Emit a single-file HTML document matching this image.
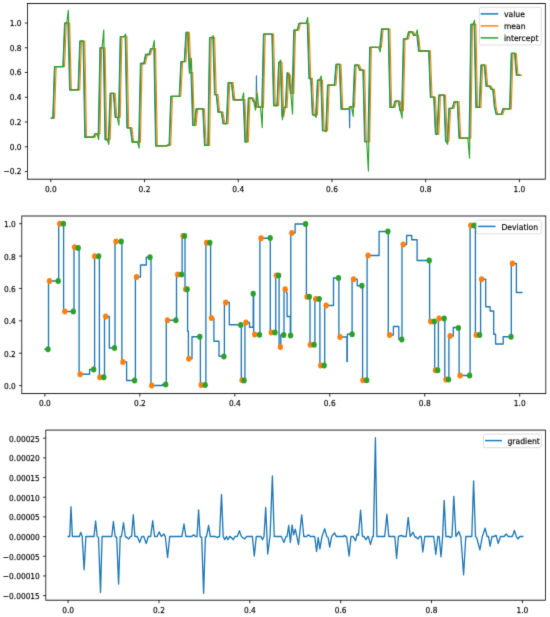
<!DOCTYPE html>
<html><head><meta charset="utf-8"><title>plot</title>
<style>html,body{margin:0;padding:0;background:#fff;} svg{display:block;}</style>
</head><body>
<svg width="550" height="617" viewBox="0 0 550 617"><defs><filter id="bl" x="-2%" y="-2%" width="104%" height="104%" color-interpolation-filters="sRGB"><feConvolveMatrix order="3" kernelMatrix="0.01134 0.08382 0.01134 0.08382 0.61935 0.08382 0.01134 0.08382 0.01134" divisor="1" edgeMode="duplicate" preserveAlpha="false"/></filter></defs><g filter="url(#bl)"><rect width="550" height="617" fill="#fff"/><g transform="scale(0.55,0.617)"><g font-family="DejaVu Sans, Liberation Sans, sans-serif" font-size="13.293" fill="#000">
<g>
<polyline points="92.91,191.60 95.97,191.60 99.04,107.85 114.36,107.85 117.43,37.61 123.56,37.61 126.62,145.43 141.94,145.43 145.01,66.71 151.14,66.71 154.20,222.43 169.53,222.43 172.59,216.41 178.72,216.41 181.79,77.52 187.92,77.52 190.98,226.11 197.11,226.11 200.17,151.32 206.30,151.32 209.37,190.25 215.50,190.25 218.56,59.47 227.76,59.47 230.82,207.20 236.95,207.20 240.02,230.16 252.27,230.16 255.34,102.94 261.47,102.94 264.53,88.32 270.66,88.32 273.73,78.75 279.86,78.75 282.92,236.30 301.31,236.30 304.38,235.08 307.44,235.08 310.50,156.11 325.83,156.11 328.89,99.99 335.02,99.99 338.09,52.47 341.15,52.47 344.22,117.92 347.28,117.92 350.35,203.27 353.41,203.27 356.48,176.38 368.73,176.38 371.80,235.57 377.93,235.57 380.99,60.82 387.12,60.82 390.19,153.41 393.25,153.41 396.32,181.78 402.45,181.78 405.51,200.20 411.64,200.20 414.71,134.13 420.83,134.13 423.90,161.64 442.29,161.64 445.35,229.92 448.42,229.92 451.48,158.94 457.61,158.94 460.68,164.71 463.74,164.71 465.73,173.26 466.27,122.85 466.82,173.26 466.81,173.80 476.00,173.80 479.06,55.29 494.39,55.29 497.45,170.97 503.58,170.97 506.65,101.22 509.71,101.22 512.78,188.90 515.84,174.04 518.91,174.04 521.97,117.92 525.04,122.59 528.10,151.45 531.17,151.45 534.23,48.90 537.29,48.90 540.36,48.87 543.42,37.97 558.75,37.97 561.81,127.25 564.88,127.25 567.94,186.08 574.07,186.08 577.14,129.83 583.27,129.83 586.33,211.74 592.46,211.74 595.52,137.94 607.78,137.94 610.85,104.29 616.98,104.29 620.04,176.74 632.30,176.74 635.09,175.53 635.64,206.97 636.18,175.53 635.37,173.18 641.50,173.18 644.56,105.64 650.69,105.64 653.75,113.75 659.88,113.75 662.95,229.67 669.08,229.67 672.14,76.66 690.53,76.66 693.60,47.06 705.85,47.06 708.92,174.04 715.05,174.04 718.11,163.85 724.24,163.85 727.31,179.45 730.37,179.45 733.44,63.15 739.57,63.15 742.63,51.85 748.76,51.85 751.83,57.26 757.95,57.26 761.02,82.68 779.41,82.68 782.47,157.46 788.60,157.46 791.67,217.52 794.73,217.52 797.80,154.03 806.99,154.03 810.06,228.81 813.12,228.81 816.18,175.52 822.31,175.52 825.38,165.08 831.51,165.08 834.57,223.78 852.96,223.78 856.03,39.69 862.16,39.69 865.22,174.04 871.35,174.04 874.41,105.64 880.54,105.64 883.61,139.53 889.74,139.53 892.80,144.82 895.87,144.82 898.93,173.18 902.00,185.34 911.19,185.34 914.26,176.38 926.51,176.38 929.58,86.48 935.71,86.48 938.77,121.85 944.90,121.85" fill="none" stroke="#1f77b4" stroke-width="2.1" stroke-linejoin="round" stroke-linecap="square"/>
<polyline points="95.97,191.60 99.04,191.60 102.10,107.85 117.43,107.85 120.49,37.61 126.62,37.61 129.69,145.43 145.01,145.43 148.07,66.71 154.20,66.71 157.27,222.43 172.59,222.43 175.66,216.41 181.79,216.41 184.85,77.52 190.98,77.52 194.05,226.11 200.17,226.11 203.24,151.32 209.37,151.32 212.43,190.25 218.56,190.25 221.63,59.47 230.82,59.47 233.89,207.20 240.02,207.20 243.08,230.16 255.34,230.16 258.40,102.94 264.53,102.94 267.60,88.32 273.73,88.32 276.79,78.75 282.92,78.75 285.99,236.30 304.38,236.30 307.44,235.08 310.50,235.08 313.57,156.11 328.89,156.11 331.96,99.99 338.09,99.99 341.15,52.47 344.22,52.47 347.28,117.92 350.35,117.92 353.41,203.27 356.48,203.27 359.54,176.38 371.80,176.38 374.86,235.57 380.99,235.57 384.06,60.82 390.19,60.82 393.25,153.41 396.32,153.41 399.38,181.78 405.51,181.78 408.58,200.20 414.71,200.20 417.77,134.13 423.90,134.13 426.96,161.64 445.35,161.64 448.42,229.92 451.48,229.92 454.55,158.94 460.68,158.94 463.74,164.71 466.81,164.71 467.09,173.42 467.09,147.65 467.27,173.42 469.87,173.80 479.06,173.80 482.13,55.29 497.45,55.29 500.52,170.97 506.65,170.97 509.71,101.22 512.78,101.22 515.84,188.90 518.91,174.04 521.97,174.04 525.04,117.92 528.10,122.59 531.17,151.45 534.23,151.45 537.29,48.90 540.36,48.90 543.42,48.87 546.49,37.97 561.81,37.97 564.88,127.25 567.94,127.25 571.01,186.08 577.14,186.08 580.20,129.83 586.33,129.83 589.39,211.74 595.52,211.74 598.59,137.94 610.85,137.94 613.91,104.29 620.04,104.29 623.11,176.74 635.37,176.74 638.43,173.18 644.56,173.18 647.62,105.64 653.75,105.64 656.82,113.75 662.95,113.75 666.01,229.67 672.14,229.67 675.21,76.66 693.60,76.66 696.66,47.06 708.92,47.06 711.98,174.04 718.11,174.04 721.18,163.85 727.31,163.85 730.37,179.45 733.44,179.45 736.50,63.15 742.63,63.15 745.70,51.85 751.83,51.85 754.89,57.26 761.02,57.26 764.08,82.68 782.47,82.68 785.54,157.46 791.67,157.46 794.73,217.52 797.80,217.52 800.86,154.03 810.06,154.03 813.12,228.81 816.18,228.81 819.25,175.52 825.38,175.52 828.44,165.08 834.57,165.08 837.64,223.78 856.03,223.78 859.09,39.69 865.22,39.69 868.29,174.04 874.41,174.04 877.48,105.64 883.61,105.64 886.67,139.53 892.80,139.53 895.87,144.82 898.93,144.82 902.00,173.18 905.06,185.34 914.26,185.34 917.32,176.38 929.58,176.38 932.64,86.48 938.77,86.48 941.84,121.85 947.97,121.85" fill="none" stroke="#ff7f0e" stroke-width="2.1" stroke-linejoin="round" stroke-linecap="square"/>
<polyline points="93.64,191.60 96.70,191.60 99.77,107.85 115.09,107.85 118.15,37.61 121.22,37.61 124.28,16.86 127.35,145.43 142.67,145.43 145.74,66.71 151.87,66.71 154.93,222.43 170.25,222.43 173.32,216.41 176.38,216.41 179.45,226.26 182.51,77.52 185.58,77.52 188.64,48.62 191.71,226.11 194.77,226.11 197.84,234.04 200.90,151.32 207.03,151.32 210.10,190.25 213.16,190.25 216.23,202.59 219.29,59.47 225.42,59.47 228.48,55.11 231.55,207.20 237.68,207.20 240.74,230.16 249.94,230.16 253.00,240.03 256.07,102.94 262.20,102.94 265.26,88.32 271.39,88.32 274.46,78.75 277.52,78.75 280.58,65.64 283.65,236.30 302.04,236.30 305.10,235.08 308.17,235.08 311.23,156.11 326.56,156.11 329.62,99.99 335.75,99.99 338.81,52.47 341.88,52.47 344.94,117.92 348.01,94.65 351.07,203.27 354.14,203.27 357.20,176.38 369.46,176.38 372.53,235.57 378.66,235.57 381.72,60.82 384.79,60.82 387.85,58.02 390.91,153.41 393.98,153.41 397.04,181.78 403.17,181.78 406.24,200.20 412.37,200.20 415.43,134.13 421.56,134.13 424.63,161.64 439.95,161.64 443.02,150.57 446.08,229.92 449.14,229.92 452.21,158.94 458.34,158.94 461.40,164.71 464.47,178.28 467.53,151.38 470.60,173.80 473.66,173.80 476.73,206.65 479.79,55.29 495.12,55.29 498.18,170.97 504.31,170.97 507.37,101.22 510.44,97.41 513.50,193.84 516.57,174.04 519.63,174.04 522.70,117.92 525.76,122.59 528.83,151.45 531.89,184.76 534.96,48.90 538.02,48.90 541.09,48.87 544.15,37.97 556.41,37.97 559.47,28.36 562.54,127.25 565.60,127.25 568.67,186.08 571.73,186.08 574.80,190.28 577.86,129.83 580.93,129.83 583.99,123.01 587.06,211.74 590.12,211.74 593.19,213.29 596.25,137.94 608.51,137.94 611.58,104.29 617.70,104.29 620.77,176.74 633.03,176.74 636.09,173.18 639.16,173.18 642.22,188.49 645.29,105.64 651.42,105.64 654.48,113.75 660.61,113.75 663.68,229.67 666.74,229.67 669.81,277.15 672.87,76.66 688.19,76.66 691.26,83.95 694.32,47.06 706.58,47.06 709.65,174.04 715.78,174.04 718.84,163.85 724.97,163.85 728.03,179.45 731.10,191.57 734.16,63.15 740.29,63.15 743.36,51.85 749.49,51.85 752.55,57.26 755.62,57.26 758.68,48.46 761.75,82.68 780.14,82.68 783.20,157.46 789.33,157.46 792.39,217.52 795.46,217.52 798.52,154.03 807.72,154.03 810.78,228.81 813.85,233.71 816.91,175.52 823.04,175.52 826.11,165.08 832.24,165.08 835.30,223.78 850.62,223.78 853.69,256.24 856.75,39.69 859.82,39.69 862.88,33.06 865.95,174.04 872.08,174.04 875.14,105.64 881.27,105.64 884.34,139.53 890.47,139.53 893.53,144.82 896.59,144.82 899.66,173.18 902.72,185.34 911.92,185.34 914.98,176.38 927.24,176.38 930.31,86.48 936.44,86.48 939.50,121.85 945.63,121.85" fill="none" stroke="#2ca02c" stroke-width="2.1" stroke-linejoin="round" stroke-linecap="square"/>
</g>
<rect x="50.00" y="5.67" width="941.45" height="284.76" fill="none" stroke="#000" stroke-width="1.4" stroke-linejoin="miter"/>
<line x1="50.00" y1="278.06" x2="45.14" y2="278.06" stroke="#000" stroke-width="1.4"/>
<text transform="translate(39.19,282.76) scale(1.0200,1)" text-anchor="end" stroke="#000" stroke-width="0.5" stroke-opacity="0.5">−0.2</text>
<line x1="50.00" y1="237.93" x2="45.14" y2="237.93" stroke="#000" stroke-width="1.4"/>
<text transform="translate(39.19,242.63) scale(1.0200,1)" text-anchor="end" stroke="#000" stroke-width="0.5" stroke-opacity="0.5">0.0</text>
<line x1="50.00" y1="197.80" x2="45.14" y2="197.80" stroke="#000" stroke-width="1.4"/>
<text transform="translate(39.19,202.50) scale(1.0200,1)" text-anchor="end" stroke="#000" stroke-width="0.5" stroke-opacity="0.5">0.2</text>
<line x1="50.00" y1="157.67" x2="45.14" y2="157.67" stroke="#000" stroke-width="1.4"/>
<text transform="translate(39.19,162.37) scale(1.0200,1)" text-anchor="end" stroke="#000" stroke-width="0.5" stroke-opacity="0.5">0.4</text>
<line x1="50.00" y1="117.54" x2="45.14" y2="117.54" stroke="#000" stroke-width="1.4"/>
<text transform="translate(39.19,122.24) scale(1.0200,1)" text-anchor="end" stroke="#000" stroke-width="0.5" stroke-opacity="0.5">0.6</text>
<line x1="50.00" y1="77.41" x2="45.14" y2="77.41" stroke="#000" stroke-width="1.4"/>
<text transform="translate(39.19,82.11) scale(1.0200,1)" text-anchor="end" stroke="#000" stroke-width="0.5" stroke-opacity="0.5">0.8</text>
<line x1="50.00" y1="37.28" x2="45.14" y2="37.28" stroke="#000" stroke-width="1.4"/>
<text transform="translate(39.19,41.98) scale(1.0200,1)" text-anchor="end" stroke="#000" stroke-width="0.5" stroke-opacity="0.5">1.0</text>
<line x1="92.36" y1="290.44" x2="92.36" y2="295.30" stroke="#000" stroke-width="1.4"/>
<text transform="translate(92.36,310.86) scale(1.0200,1)" text-anchor="middle" stroke="#000" stroke-width="0.5" stroke-opacity="0.5">0.0</text>
<line x1="262.76" y1="290.44" x2="262.76" y2="295.30" stroke="#000" stroke-width="1.4"/>
<text transform="translate(262.76,310.86) scale(1.0200,1)" text-anchor="middle" stroke="#000" stroke-width="0.5" stroke-opacity="0.5">0.2</text>
<line x1="433.16" y1="290.44" x2="433.16" y2="295.30" stroke="#000" stroke-width="1.4"/>
<text transform="translate(433.16,310.86) scale(1.0200,1)" text-anchor="middle" stroke="#000" stroke-width="0.5" stroke-opacity="0.5">0.4</text>
<line x1="603.56" y1="290.44" x2="603.56" y2="295.30" stroke="#000" stroke-width="1.4"/>
<text transform="translate(603.56,310.86) scale(1.0200,1)" text-anchor="middle" stroke="#000" stroke-width="0.5" stroke-opacity="0.5">0.6</text>
<line x1="773.96" y1="290.44" x2="773.96" y2="295.30" stroke="#000" stroke-width="1.4"/>
<text transform="translate(773.96,310.86) scale(1.0200,1)" text-anchor="middle" stroke="#000" stroke-width="0.5" stroke-opacity="0.5">0.8</text>
<line x1="944.36" y1="290.44" x2="944.36" y2="295.30" stroke="#000" stroke-width="1.4"/>
<text transform="translate(944.36,310.86) scale(1.0200,1)" text-anchor="middle" stroke="#000" stroke-width="0.5" stroke-opacity="0.5">1.0</text>
<rect x="871.64" y="11.99" width="112.55" height="60.94" rx="2.78" ry="2.78" fill="#fff" fill-opacity="0.8" stroke="#ccc" stroke-width="1.1"/>
<line x1="875.09" y1="22.53" x2="904.73" y2="22.53" stroke="#1f77b4" stroke-width="2.4" stroke-linecap="square"/>
<text transform="translate(916.18,27.88) scale(1.0500,1)" text-anchor="start" stroke="#000" stroke-width="0.5" stroke-opacity="0.5">value</text>
<line x1="875.09" y1="41.98" x2="904.73" y2="41.98" stroke="#ff7f0e" stroke-width="2.4" stroke-linecap="square"/>
<text transform="translate(916.18,47.33) scale(1.0500,1)" text-anchor="start" stroke="#000" stroke-width="0.5" stroke-opacity="0.5">mean</text>
<line x1="875.09" y1="61.43" x2="904.73" y2="61.43" stroke="#2ca02c" stroke-width="2.4" stroke-linecap="square"/>
<text transform="translate(916.18,66.77) scale(1.0500,1)" text-anchor="start" stroke="#000" stroke-width="0.5" stroke-opacity="0.5">intercept</text>
<polyline points="81.64,565.96 88.18,565.96 88.18,455.43 106.73,455.43 106.73,362.72 115.64,362.72 115.64,505.02 134.55,505.02 134.55,401.13 143.82,401.13 143.82,606.65 162.91,606.65 162.91,598.70 172.00,598.70 172.00,415.40 180.73,415.40 180.73,611.51 190.00,611.51 190.00,512.80 198.73,512.80 198.73,564.18 209.09,564.18 209.09,391.57 221.64,391.57 221.64,586.55 230.18,586.55 230.18,616.86 246.18,616.86 246.18,448.95 255.45,448.95 255.45,429.66 266.00,429.66 266.00,417.02 274.55,417.02 274.55,624.96 295.27,624.96 295.27,623.34 302.36,623.34 302.36,519.12 320.91,519.12 320.91,445.06 331.09,445.06 331.09,382.33 336.36,382.33 336.36,468.72 341.09,468.72 341.09,536.95 342.55,536.95 342.55,581.36 349.09,581.36 349.09,545.87 364.36,545.87 364.36,623.99 374.36,623.99 374.36,393.35 382.91,393.35 382.91,515.56 388.91,515.56 388.91,553.00 398.18,553.00 398.18,577.31 408.00,577.31 408.00,490.11 416.91,490.11 416.91,526.42 438.73,526.42 438.73,616.53 445.27,616.53 445.27,522.85 453.64,522.85 453.64,530.47 460.36,530.47 460.36,476.01 461.27,476.01 461.27,542.46 472.55,542.46 472.55,386.06 491.45,386.06 491.45,538.74 501.27,538.74 501.27,446.68 507.45,446.68 507.45,562.40 510.55,562.40 510.55,542.79 516.36,542.79 516.36,468.72 520.91,468.72 520.91,474.88 522.00,474.88 522.00,512.97 527.82,512.97 527.82,543.60 528.73,543.60 528.73,377.63 536.55,377.63 536.55,363.21 557.09,363.21 557.09,481.04 563.64,481.04 563.64,558.67 572.55,558.67 572.55,484.44 581.64,484.44 581.64,592.54 590.36,592.54 590.36,495.14 606.36,495.14 606.36,450.73 616.18,450.73 616.18,546.35 630.73,546.35 630.73,586.06 631.45,586.06 631.45,541.65 640.18,541.65 640.18,452.51 649.45,452.51 649.45,463.21 659.27,463.21 659.27,616.21 667.45,616.21 667.45,414.26 689.27,414.26 689.27,375.20 706.00,375.20 706.00,542.79 715.27,542.79 715.27,529.34 725.09,529.34 725.09,549.92 730.91,549.92 730.91,396.43 739.27,396.43 739.27,381.52 748.55,381.52 748.55,388.65 758.36,388.65 758.36,422.20 781.09,422.20 781.09,520.91 790.36,520.91 790.36,600.16 797.09,600.16 797.09,516.37 808.73,516.37 808.73,615.07 816.18,615.07 816.18,544.73 824.18,544.73 824.18,530.96 834.73,530.96 834.73,608.43 854.73,608.43 854.73,365.48 864.36,365.48 864.36,542.79 873.82,542.79 873.82,452.51 883.09,452.51 883.09,497.24 891.09,497.24 891.09,504.21 897.64,504.21 897.64,541.65 901.09,541.65 901.09,557.70 914.91,557.70 914.91,545.87 929.64,545.87 929.64,427.23 938.91,427.23 938.91,473.91 948.91,473.91" fill="none" stroke="#1f77b4" stroke-width="2.4" stroke-linejoin="round" stroke-linecap="square"/>
<circle cx="90.00" cy="455.43" r="4.86" fill="#ff7f0e"/>
<circle cx="108.55" cy="362.72" r="4.86" fill="#ff7f0e"/>
<circle cx="117.82" cy="505.02" r="4.86" fill="#ff7f0e"/>
<circle cx="135.64" cy="400.81" r="4.86" fill="#ff7f0e"/>
<circle cx="145.64" cy="606.65" r="4.86" fill="#ff7f0e"/>
<circle cx="172.18" cy="415.40" r="4.86" fill="#ff7f0e"/>
<circle cx="181.64" cy="611.51" r="4.86" fill="#ff7f0e"/>
<circle cx="192.18" cy="512.80" r="4.86" fill="#ff7f0e"/>
<circle cx="210.91" cy="391.57" r="4.86" fill="#ff7f0e"/>
<circle cx="223.45" cy="586.55" r="4.86" fill="#ff7f0e"/>
<circle cx="248.18" cy="448.95" r="4.86" fill="#ff7f0e"/>
<circle cx="275.82" cy="624.96" r="4.86" fill="#ff7f0e"/>
<circle cx="304.55" cy="519.12" r="4.86" fill="#ff7f0e"/>
<circle cx="323.09" cy="445.06" r="4.86" fill="#ff7f0e"/>
<circle cx="332.91" cy="382.33" r="4.86" fill="#ff7f0e"/>
<circle cx="337.64" cy="468.72" r="4.86" fill="#ff7f0e"/>
<circle cx="343.27" cy="581.36" r="4.86" fill="#ff7f0e"/>
<circle cx="365.82" cy="623.99" r="4.86" fill="#ff7f0e"/>
<circle cx="375.64" cy="393.35" r="4.86" fill="#ff7f0e"/>
<circle cx="384.36" cy="515.56" r="4.86" fill="#ff7f0e"/>
<circle cx="410.36" cy="490.11" r="4.86" fill="#ff7f0e"/>
<circle cx="440.18" cy="616.21" r="4.86" fill="#ff7f0e"/>
<circle cx="447.09" cy="522.85" r="4.86" fill="#ff7f0e"/>
<circle cx="463.09" cy="542.14" r="4.86" fill="#ff7f0e"/>
<circle cx="474.73" cy="386.06" r="4.86" fill="#ff7f0e"/>
<circle cx="493.27" cy="538.74" r="4.86" fill="#ff7f0e"/>
<circle cx="502.55" cy="446.68" r="4.86" fill="#ff7f0e"/>
<circle cx="509.82" cy="562.40" r="4.86" fill="#ff7f0e"/>
<circle cx="518.55" cy="468.72" r="4.86" fill="#ff7f0e"/>
<circle cx="530.55" cy="377.63" r="4.86" fill="#ff7f0e"/>
<circle cx="558.18" cy="481.04" r="4.86" fill="#ff7f0e"/>
<circle cx="564.18" cy="558.67" r="4.86" fill="#ff7f0e"/>
<circle cx="574.00" cy="484.44" r="4.86" fill="#ff7f0e"/>
<circle cx="583.09" cy="592.54" r="4.86" fill="#ff7f0e"/>
<circle cx="592.91" cy="495.14" r="4.86" fill="#ff7f0e"/>
<circle cx="618.18" cy="546.35" r="4.86" fill="#ff7f0e"/>
<circle cx="642.73" cy="452.51" r="4.86" fill="#ff7f0e"/>
<circle cx="660.00" cy="616.21" r="4.86" fill="#ff7f0e"/>
<circle cx="669.27" cy="414.26" r="4.86" fill="#ff7f0e"/>
<circle cx="708.36" cy="542.79" r="4.86" fill="#ff7f0e"/>
<circle cx="733.09" cy="396.43" r="4.86" fill="#ff7f0e"/>
<circle cx="783.09" cy="520.91" r="4.86" fill="#ff7f0e"/>
<circle cx="791.82" cy="600.16" r="4.86" fill="#ff7f0e"/>
<circle cx="798.36" cy="516.37" r="4.86" fill="#ff7f0e"/>
<circle cx="810.91" cy="615.07" r="4.86" fill="#ff7f0e"/>
<circle cx="818.36" cy="544.73" r="4.86" fill="#ff7f0e"/>
<circle cx="836.55" cy="608.43" r="4.86" fill="#ff7f0e"/>
<circle cx="856.00" cy="365.48" r="4.86" fill="#ff7f0e"/>
<circle cx="865.82" cy="542.79" r="4.86" fill="#ff7f0e"/>
<circle cx="875.64" cy="452.51" r="4.86" fill="#ff7f0e"/>
<circle cx="931.64" cy="427.23" r="4.86" fill="#ff7f0e"/>
<circle cx="87.27" cy="565.96" r="4.86" fill="#2ca02c"/>
<circle cx="105.82" cy="455.43" r="4.86" fill="#2ca02c"/>
<circle cx="115.27" cy="362.72" r="4.86" fill="#2ca02c"/>
<circle cx="133.27" cy="505.02" r="4.86" fill="#2ca02c"/>
<circle cx="142.18" cy="402.11" r="4.86" fill="#2ca02c"/>
<circle cx="170.36" cy="598.87" r="4.86" fill="#2ca02c"/>
<circle cx="179.45" cy="415.40" r="4.86" fill="#2ca02c"/>
<circle cx="188.73" cy="611.51" r="4.86" fill="#2ca02c"/>
<circle cx="208.18" cy="564.18" r="4.86" fill="#2ca02c"/>
<circle cx="220.36" cy="391.57" r="4.86" fill="#2ca02c"/>
<circle cx="244.73" cy="616.86" r="4.86" fill="#2ca02c"/>
<circle cx="272.73" cy="417.02" r="4.86" fill="#2ca02c"/>
<circle cx="301.27" cy="623.34" r="4.86" fill="#2ca02c"/>
<circle cx="319.82" cy="519.12" r="4.86" fill="#2ca02c"/>
<circle cx="330.18" cy="445.06" r="4.86" fill="#2ca02c"/>
<circle cx="335.64" cy="382.33" r="4.86" fill="#2ca02c"/>
<circle cx="340.36" cy="468.72" r="4.86" fill="#2ca02c"/>
<circle cx="363.27" cy="545.87" r="4.86" fill="#2ca02c"/>
<circle cx="373.09" cy="623.99" r="4.86" fill="#2ca02c"/>
<circle cx="381.45" cy="393.35" r="4.86" fill="#2ca02c"/>
<circle cx="407.09" cy="577.63" r="4.86" fill="#2ca02c"/>
<circle cx="437.82" cy="526.90" r="4.86" fill="#2ca02c"/>
<circle cx="443.82" cy="616.86" r="4.86" fill="#2ca02c"/>
<circle cx="460.36" cy="476.01" r="4.86" fill="#2ca02c"/>
<circle cx="471.82" cy="542.46" r="4.86" fill="#2ca02c"/>
<circle cx="491.27" cy="385.90" r="4.86" fill="#2ca02c"/>
<circle cx="500.00" cy="538.74" r="4.86" fill="#2ca02c"/>
<circle cx="506.55" cy="446.68" r="4.86" fill="#2ca02c"/>
<circle cx="515.82" cy="542.79" r="4.86" fill="#2ca02c"/>
<circle cx="528.36" cy="543.60" r="4.86" fill="#2ca02c"/>
<circle cx="555.64" cy="363.21" r="4.86" fill="#2ca02c"/>
<circle cx="562.36" cy="481.04" r="4.86" fill="#2ca02c"/>
<circle cx="571.09" cy="558.67" r="4.86" fill="#2ca02c"/>
<circle cx="580.36" cy="484.44" r="4.86" fill="#2ca02c"/>
<circle cx="589.45" cy="592.54" r="4.86" fill="#2ca02c"/>
<circle cx="615.45" cy="450.73" r="4.86" fill="#2ca02c"/>
<circle cx="640.18" cy="541.65" r="4.86" fill="#2ca02c"/>
<circle cx="658.00" cy="463.21" r="4.86" fill="#2ca02c"/>
<circle cx="666.73" cy="616.21" r="4.86" fill="#2ca02c"/>
<circle cx="705.27" cy="375.20" r="4.86" fill="#2ca02c"/>
<circle cx="730.55" cy="550.08" r="4.86" fill="#2ca02c"/>
<circle cx="780.36" cy="422.20" r="4.86" fill="#2ca02c"/>
<circle cx="789.64" cy="520.91" r="4.86" fill="#2ca02c"/>
<circle cx="795.82" cy="600.16" r="4.86" fill="#2ca02c"/>
<circle cx="807.64" cy="516.37" r="4.86" fill="#2ca02c"/>
<circle cx="815.45" cy="615.07" r="4.86" fill="#2ca02c"/>
<circle cx="833.45" cy="531.44" r="4.86" fill="#2ca02c"/>
<circle cx="853.82" cy="608.43" r="4.86" fill="#2ca02c"/>
<circle cx="862.00" cy="365.48" r="4.86" fill="#2ca02c"/>
<circle cx="872.00" cy="542.79" r="4.86" fill="#2ca02c"/>
<circle cx="929.09" cy="545.87" r="4.86" fill="#2ca02c"/>
<rect x="39.64" y="350.08" width="952.73" height="287.84" fill="none" stroke="#000" stroke-width="1.4" stroke-linejoin="miter"/>
<line x1="39.64" y1="624.96" x2="34.78" y2="624.96" stroke="#000" stroke-width="1.4"/>
<text transform="translate(28.83,630.71) scale(1.0200,1)" text-anchor="end" stroke="#000" stroke-width="0.5" stroke-opacity="0.5">0.0</text>
<line x1="39.64" y1="572.48" x2="34.78" y2="572.48" stroke="#000" stroke-width="1.4"/>
<text transform="translate(28.83,578.23) scale(1.0200,1)" text-anchor="end" stroke="#000" stroke-width="0.5" stroke-opacity="0.5">0.2</text>
<line x1="39.64" y1="520.00" x2="34.78" y2="520.00" stroke="#000" stroke-width="1.4"/>
<text transform="translate(28.83,525.75) scale(1.0200,1)" text-anchor="end" stroke="#000" stroke-width="0.5" stroke-opacity="0.5">0.4</text>
<line x1="39.64" y1="467.52" x2="34.78" y2="467.52" stroke="#000" stroke-width="1.4"/>
<text transform="translate(28.83,473.27) scale(1.0200,1)" text-anchor="end" stroke="#000" stroke-width="0.5" stroke-opacity="0.5">0.6</text>
<line x1="39.64" y1="415.04" x2="34.78" y2="415.04" stroke="#000" stroke-width="1.4"/>
<text transform="translate(28.83,420.79) scale(1.0200,1)" text-anchor="end" stroke="#000" stroke-width="0.5" stroke-opacity="0.5">0.8</text>
<line x1="39.64" y1="362.56" x2="34.78" y2="362.56" stroke="#000" stroke-width="1.4"/>
<text transform="translate(28.83,368.31) scale(1.0200,1)" text-anchor="end" stroke="#000" stroke-width="0.5" stroke-opacity="0.5">1.0</text>
<line x1="81.64" y1="637.93" x2="81.64" y2="642.79" stroke="#000" stroke-width="1.4"/>
<text transform="translate(81.64,658.35) scale(1.0200,1)" text-anchor="middle" stroke="#000" stroke-width="0.5" stroke-opacity="0.5">0.0</text>
<line x1="254.29" y1="637.93" x2="254.29" y2="642.79" stroke="#000" stroke-width="1.4"/>
<text transform="translate(254.29,658.35) scale(1.0200,1)" text-anchor="middle" stroke="#000" stroke-width="0.5" stroke-opacity="0.5">0.2</text>
<line x1="426.95" y1="637.93" x2="426.95" y2="642.79" stroke="#000" stroke-width="1.4"/>
<text transform="translate(426.95,658.35) scale(1.0200,1)" text-anchor="middle" stroke="#000" stroke-width="0.5" stroke-opacity="0.5">0.4</text>
<line x1="599.60" y1="637.93" x2="599.60" y2="642.79" stroke="#000" stroke-width="1.4"/>
<text transform="translate(599.60,658.35) scale(1.0200,1)" text-anchor="middle" stroke="#000" stroke-width="0.5" stroke-opacity="0.5">0.6</text>
<line x1="772.25" y1="637.93" x2="772.25" y2="642.79" stroke="#000" stroke-width="1.4"/>
<text transform="translate(772.25,658.35) scale(1.0200,1)" text-anchor="middle" stroke="#000" stroke-width="0.5" stroke-opacity="0.5">0.8</text>
<line x1="944.91" y1="637.93" x2="944.91" y2="642.79" stroke="#000" stroke-width="1.4"/>
<text transform="translate(944.91,658.35) scale(1.0200,1)" text-anchor="middle" stroke="#000" stroke-width="0.5" stroke-opacity="0.5">1.0</text>
<rect x="866.18" y="356.56" width="118.00" height="22.53" rx="2.78" ry="2.78" fill="#fff" fill-opacity="0.8" stroke="#ccc" stroke-width="1.1"/>
<line x1="870.55" y1="366.94" x2="899.82" y2="366.94" stroke="#1f77b4" stroke-width="2.4" stroke-linecap="square"/>
<text transform="translate(911.64,372.29) scale(1.0500,1)" text-anchor="start" stroke="#000" stroke-width="0.5" stroke-opacity="0.5">Deviation</text>
<polyline points="123.82,869.53 126.73,869.53 129.09,821.39 131.64,869.53 144.36,869.53 146.73,862.88 149.45,869.53 152.91,923.34 156.18,869.53 170.91,869.53 173.82,844.57 176.73,869.53 179.09,871.15 182.73,960.13 185.64,869.53 203.27,869.53 206.18,845.38 209.45,869.53 212.18,871.15 215.64,946.52 218.55,869.53 220.91,869.53 224.55,847.16 227.82,869.53 230.73,871.15 233.64,873.42 237.27,869.53 239.27,869.53 242.36,834.20 245.27,869.53 249.64,869.53 254.00,879.25 257.82,869.53 261.45,869.53 265.82,880.71 269.64,869.53 274.00,869.53 277.64,843.92 281.09,869.53 285.82,869.53 289.45,862.07 293.27,869.53 297.64,865.48 300.55,869.53 304.73,903.57 308.55,869.53 330.73,869.53 334.55,849.27 338.00,869.53 348.36,869.53 352.18,866.77 355.64,869.53 358.18,869.53 361.09,826.58 363.82,869.53 366.73,871.15 370.18,961.43 373.45,870.34 375.45,869.53 379.27,851.86 382.36,869.53 391.64,869.53 394.00,871.15 399.09,869.53 402.73,801.46 405.82,869.53 408.55,874.72 411.82,869.53 414.36,874.72 417.64,869.53 420.55,871.15 424.18,874.72 427.09,869.53 431.45,869.53 435.27,860.29 438.91,869.53 444.73,873.58 448.36,869.53 458.91,869.53 462.36,900.97 466.00,869.53 474.18,869.53 477.27,874.55 480.00,869.53 483.09,822.53 486.73,897.89 491.09,868.23 495.27,771.47 498.55,869.53 511.64,869.53 516.18,879.25 520.00,869.53 522.00,869.53 524.91,851.86 528.00,879.25 531.09,851.05 533.82,866.77 536.91,857.70 542.73,882.66 548.55,834.52 552.36,869.53 557.45,869.53 560.91,866.77 564.18,869.53 572.18,869.53 575.64,893.84 578.55,871.31 581.64,889.63 585.45,869.53 590.36,857.05 594.18,869.53 596.55,871.15 599.45,886.55 602.91,869.53 608.18,863.70 611.64,869.53 624.36,869.53 625.82,867.91 630.18,870.34 634.73,900.97 638.18,869.53 642.00,869.53 646.55,876.50 649.45,865.48 651.82,867.59 655.64,827.07 659.09,869.53 661.82,869.53 665.64,874.72 668.55,869.53 670.00,870.34 673.64,882.66 677.45,869.53 678.91,869.53 682.55,709.56 685.27,869.53 699.45,869.53 703.45,833.55 706.91,869.53 717.82,869.53 721.09,904.86 724.36,869.53 729.64,867.91 734.00,869.53 738.55,869.53 742.18,838.57 745.82,869.53 750.91,862.88 754.00,869.53 757.09,871.15 760.00,873.42 762.91,869.53 765.82,869.53 768.73,894.49 772.36,869.53 788.55,869.53 792.36,898.38 796.00,869.53 798.36,869.53 801.82,902.27 804.73,869.53 807.64,811.02 810.73,869.53 816.55,869.53 819.45,871.15 821.82,869.53 825.09,804.54 828.91,869.53 834.18,861.59 838.00,870.83 842.91,931.60 846.91,869.53 857.82,869.53 861.09,779.42 864.55,869.53 866.55,871.15 872.55,891.25 876.91,869.53 882.00,856.24 885.82,869.53 888.18,869.53 891.09,885.25 894.55,869.53 898.18,869.53 902.00,867.59 905.82,880.71 910.00,869.53 916.73,869.53 920.18,865.48 924.00,869.53 931.45,869.53 935.27,859.81 938.73,869.53 941.82,873.42 945.27,869.53 950.55,869.53" fill="none" stroke="#1f77b4" stroke-width="2.4" stroke-linejoin="round" stroke-linecap="square"/>
<rect x="83.27" y="697.08" width="908.73" height="275.69" fill="none" stroke="#000" stroke-width="1.4" stroke-linejoin="miter"/>
<line x1="83.27" y1="965.36" x2="78.41" y2="965.36" stroke="#000" stroke-width="1.4"/>
<text transform="translate(72.46,970.87) scale(1.0200,1)" text-anchor="end" stroke="#000" stroke-width="0.5" stroke-opacity="0.5">−0.00015</text>
<line x1="83.27" y1="933.47" x2="78.41" y2="933.47" stroke="#000" stroke-width="1.4"/>
<text transform="translate(72.46,938.98) scale(1.0200,1)" text-anchor="end" stroke="#000" stroke-width="0.5" stroke-opacity="0.5">−0.00010</text>
<line x1="83.27" y1="901.58" x2="78.41" y2="901.58" stroke="#000" stroke-width="1.4"/>
<text transform="translate(72.46,907.09) scale(1.0200,1)" text-anchor="end" stroke="#000" stroke-width="0.5" stroke-opacity="0.5">−0.00005</text>
<line x1="83.27" y1="869.69" x2="78.41" y2="869.69" stroke="#000" stroke-width="1.4"/>
<text transform="translate(72.46,875.20) scale(1.0200,1)" text-anchor="end" stroke="#000" stroke-width="0.5" stroke-opacity="0.5">0.00000</text>
<line x1="83.27" y1="837.80" x2="78.41" y2="837.80" stroke="#000" stroke-width="1.4"/>
<text transform="translate(72.46,843.31) scale(1.0200,1)" text-anchor="end" stroke="#000" stroke-width="0.5" stroke-opacity="0.5">0.00005</text>
<line x1="83.27" y1="805.92" x2="78.41" y2="805.92" stroke="#000" stroke-width="1.4"/>
<text transform="translate(72.46,811.43) scale(1.0200,1)" text-anchor="end" stroke="#000" stroke-width="0.5" stroke-opacity="0.5">0.00010</text>
<line x1="83.27" y1="774.03" x2="78.41" y2="774.03" stroke="#000" stroke-width="1.4"/>
<text transform="translate(72.46,779.54) scale(1.0200,1)" text-anchor="end" stroke="#000" stroke-width="0.5" stroke-opacity="0.5">0.00015</text>
<line x1="83.27" y1="742.14" x2="78.41" y2="742.14" stroke="#000" stroke-width="1.4"/>
<text transform="translate(72.46,747.65) scale(1.0200,1)" text-anchor="end" stroke="#000" stroke-width="0.5" stroke-opacity="0.5">0.00020</text>
<line x1="83.27" y1="710.25" x2="78.41" y2="710.25" stroke="#000" stroke-width="1.4"/>
<text transform="translate(72.46,715.76) scale(1.0200,1)" text-anchor="end" stroke="#000" stroke-width="0.5" stroke-opacity="0.5">0.00025</text>
<line x1="123.82" y1="972.77" x2="123.82" y2="977.63" stroke="#000" stroke-width="1.4"/>
<text transform="translate(123.82,993.19) scale(1.0200,1)" text-anchor="middle" stroke="#000" stroke-width="0.5" stroke-opacity="0.5">0.0</text>
<line x1="289.02" y1="972.77" x2="289.02" y2="977.63" stroke="#000" stroke-width="1.4"/>
<text transform="translate(289.02,993.19) scale(1.0200,1)" text-anchor="middle" stroke="#000" stroke-width="0.5" stroke-opacity="0.5">0.2</text>
<line x1="454.22" y1="972.77" x2="454.22" y2="977.63" stroke="#000" stroke-width="1.4"/>
<text transform="translate(454.22,993.19) scale(1.0200,1)" text-anchor="middle" stroke="#000" stroke-width="0.5" stroke-opacity="0.5">0.4</text>
<line x1="619.42" y1="972.77" x2="619.42" y2="977.63" stroke="#000" stroke-width="1.4"/>
<text transform="translate(619.42,993.19) scale(1.0200,1)" text-anchor="middle" stroke="#000" stroke-width="0.5" stroke-opacity="0.5">0.6</text>
<line x1="784.62" y1="972.77" x2="784.62" y2="977.63" stroke="#000" stroke-width="1.4"/>
<text transform="translate(784.62,993.19) scale(1.0200,1)" text-anchor="middle" stroke="#000" stroke-width="0.5" stroke-opacity="0.5">0.8</text>
<line x1="949.82" y1="972.77" x2="949.82" y2="977.63" stroke="#000" stroke-width="1.4"/>
<text transform="translate(949.82,993.19) scale(1.0200,1)" text-anchor="middle" stroke="#000" stroke-width="0.5" stroke-opacity="0.5">1.0</text>
<rect x="879.09" y="703.57" width="105.09" height="21.88" rx="2.78" ry="2.78" fill="#fff" fill-opacity="0.8" stroke="#ccc" stroke-width="1.1"/>
<line x1="883.09" y1="714.10" x2="911.45" y2="714.10" stroke="#1f77b4" stroke-width="2.4" stroke-linecap="square"/>
<text transform="translate(922.73,719.45) scale(1.0500,1)" text-anchor="start" stroke="#000" stroke-width="0.5" stroke-opacity="0.5">gradient</text>
</g></g></g></svg>
</body></html>
